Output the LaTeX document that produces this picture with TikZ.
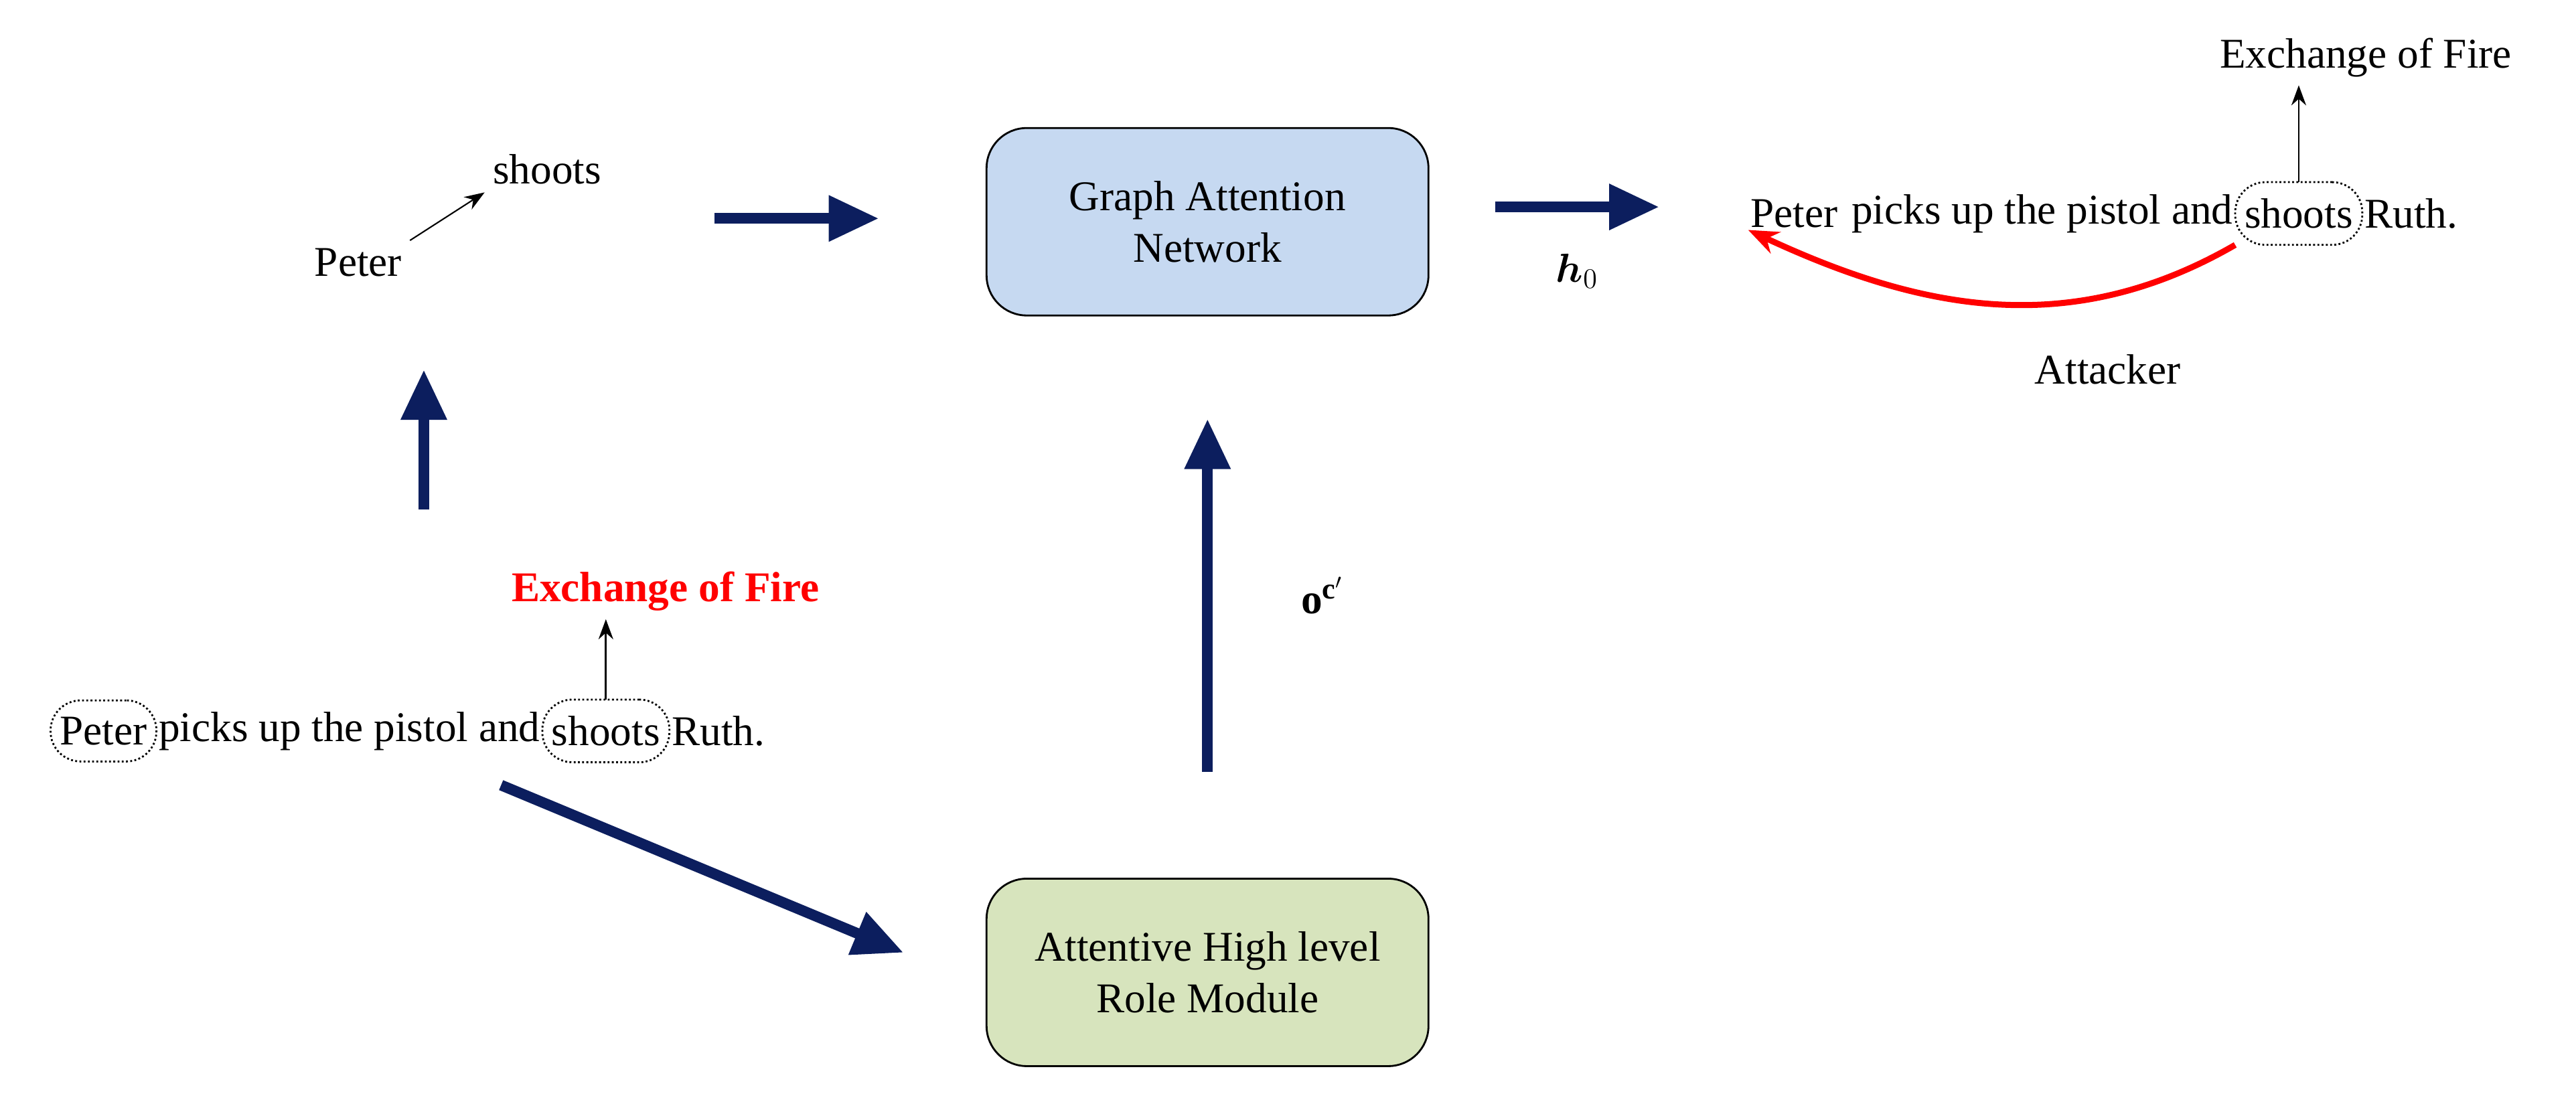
\documentclass[tikz,border=0pt]{standalone}
\usepackage{amsmath,amssymb,bm}
\usepackage{fontspec}
\setmainfont{Liberation Serif}
\usetikzlibrary{positioning,arrows.meta}
\definecolor{navy}{HTML}{0C1E5E}
\definecolor{boxblue}{HTML}{C6D9F1}
\definecolor{boxgreen}{HTML}{D7E4BD}
\begin{document}
\begin{tikzpicture}[
    x=0.02453cm, y=-0.02453cm,
    every node/.style={anchor=center, font=\fontsize{18}{22}\selectfont},
    word/.style={inner sep=1pt, outer sep=0pt},
    circled/.style={word, draw, densely dotted, thick, rounded corners=0.45cm, inner xsep=4pt, inner ysep=7pt},
    module/.style={draw, thick, rounded corners=0.6cm, minimum width=6.6cm, minimum height=2.8cm, align=center},
    bigarrow/.style={-{Triangle[length=0.75cm,width=0.65cm]}, navy, line width=0.16cm},
    thin/.style={-{Stealth[length=0.3cm,width=0.22cm]}, thick}
    ]
\useasboundingbox (0,0) rectangle (1568,677);

% Modules
\node[module, fill=boxblue] (GAT) at (735,135) {Graph Attention\\Network};
\node[module, fill=boxgreen] (ARM) at (735,592) {Attentive High level\\Role Module};

% Input sentence
\node[circled] (in peter) at (63,445) {Peter};
\node[word, right=0pt of in peter] (in mid) {picks up the pistol and};
\node[circled, right=0pt of in mid] (in shoots) {shoots};
\node[word, right=0pt of in shoots] (in ruth) {Ruth.};
\node[text=red, font=\fontsize{18}{22}\selectfont\bfseries] (in event) at (405,360) {Exchange of Fire};
\draw[thin] (in shoots.north) -- (in event.south -| in shoots.north);

% Small graph
\node (g peter) at (218,160) {Peter};
\node (g shoots) at (333,103) {shoots};
\draw[thin, semithick] (g peter.north east) -- (g shoots.south west);

% Output sentence
\node[word] (out peter) at (1092,130) {Peter};
\node[word, right=4pt of out peter] (out mid) {picks up the pistol and};
\node[circled, right=0pt of out mid] (out shoots) {shoots};
\node[word, right=0pt of out shoots] (out ruth) {Ruth.};
\node (out event) at (1440,35) {Exchange of Fire};
\draw[thin] (out shoots.north) -- (out event.south -| out shoots.north);
\draw[-{Stealth[length=0.45cm,width=0.35cm]}, red, line width=0.09cm] (out shoots.south west) to[out=-150, in=-25] (out peter.south west);
\node (attacker) at (1283,225) {Attacker};

% Coordinates for the thick arrows
\coordinate (a1) at (258,310); \coordinate (a2) at (258,225);
\coordinate (b1) at (435,133); \coordinate (b2) at (535,133);
\coordinate (c1) at (910,126); \coordinate (c2) at (1010,126);
\coordinate (d1) at (305,478); \coordinate (d2) at (550,580);
\coordinate (e1) at (735,470); \coordinate (e2) at (735,255);

\draw[bigarrow] (a1) -- (a2);
\draw[bigarrow] (b1) -- (b2);
\draw[bigarrow] (c1) -- node[below=0.5cm, text=black] {$\bm{h}_0$} (c2);
\draw[bigarrow] (d1) -- (d2);
\draw[bigarrow] (e1) -- node[right=1.2cm, text=black] {$\mathbf{o}^{\mathbf{c}'}$} (e2);

\end{tikzpicture}
\end{document}
